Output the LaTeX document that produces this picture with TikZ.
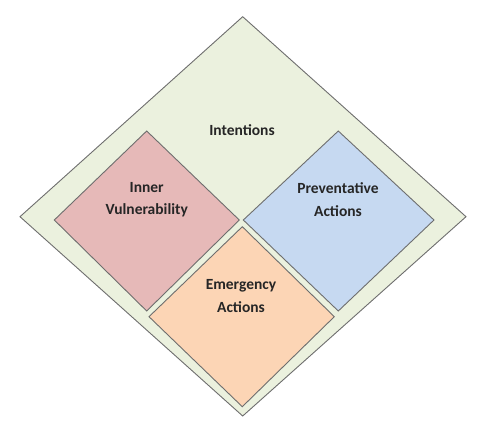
\documentclass[tikz,border=0pt]{standalone}
\usepackage{fontspec}
\setmainfont{Carlito}
\definecolor{gfill}{HTML}{EBF1DE}
\definecolor{rfill}{HTML}{E6B9B8}
\definecolor{bfill}{HTML}{C6D9F1}
\definecolor{ofill}{HTML}{FCD5B5}
\definecolor{edge}{HTML}{6E6E6E}
\definecolor{txt}{HTML}{262626}
\begin{document}
\begin{tikzpicture}[x=1pt,y=-1pt,
  dshape/.style={draw=edge,line width=0.9pt,line join=miter},
  lbl/.style={text=txt,font=\fontsize{15.5}{22.5}\selectfont\bfseries,align=center,inner sep=0pt}]
\useasboundingbox (0,0) rectangle (480,431);
\fill[white] (0,0) rectangle (480,431);
% outer diamond
\draw[dshape,fill=gfill] (242.7,16.7) -- (466,216.7) -- (242.7,416) -- (20,216.7) -- cycle;
% red
\draw[dshape,fill=rfill] (146.7,131) -- (239.3,220) -- (146.7,311) -- (54.3,220) -- cycle;
% blue
\draw[dshape,fill=bfill] (338.3,131) -- (434,220) -- (338.3,311) -- (243.3,220) -- cycle;
% orange
\draw[dshape,fill=ofill] (242.3,226.7) -- (334.3,316.7) -- (242.3,406.7) -- (149,316.7) -- cycle;
\node[lbl] (int) at (242,130) {Intentions};
\node[lbl] (inner) at (146.7,199.5) {Inner\\Vulnerability};
\node[lbl] (prev) at (338,199.5) {Preventative\\Actions};
\node[lbl] (emer) at (241,296) {Emergency\\Actions};
\end{tikzpicture}
\end{document}
